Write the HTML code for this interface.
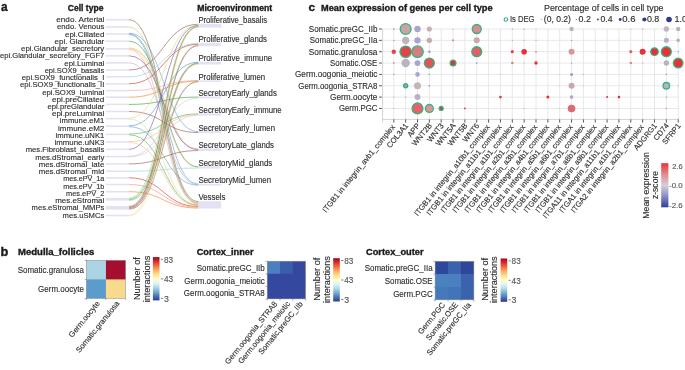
<!DOCTYPE html>
<html><head><meta charset="utf-8"><style>
html,body{margin:0;padding:0;background:#fff;width:685px;height:370px;overflow:hidden}
svg{display:block;font-family:"Liberation Sans", Arial, sans-serif}
</style></head><body>
<svg width="685" height="370" viewBox="0 0 685 370">
<text x="1.00" y="10.70" font-size="12.00" text-anchor="start" font-weight="bold" fill="#1a1a1a" stroke="#1a1a1a" stroke-width="0.35" textLength="6.67" lengthAdjust="spacingAndGlyphs" >a</text>
<text x="103.40" y="10.80" font-size="8.60" text-anchor="end" font-weight="bold" fill="#1a1a1a" stroke="#1a1a1a" stroke-width="0.35" textLength="35.60" lengthAdjust="spacingAndGlyphs" >Cell type</text>
<text x="197.20" y="10.80" font-size="8.60" text-anchor="start" font-weight="bold" fill="#1a1a1a" stroke="#1a1a1a" stroke-width="0.35" textLength="75.00" lengthAdjust="spacingAndGlyphs" >Microenvironment</text>
<rect x="105.8" y="18.90" width="23.2" height="1.60" fill="#e3e1f2"/>
<text x="104.30" y="22.05" font-size="8.10" text-anchor="end" font-weight="normal" fill="#2e2e2e" stroke="#2e2e2e" stroke-width="0.13" textLength="48.00" lengthAdjust="spacingAndGlyphs" >endo. Arterial</text>
<rect x="105.8" y="26.20" width="23.2" height="1.60" fill="#e3e1f2"/>
<text x="104.30" y="29.30" font-size="8.10" text-anchor="end" font-weight="normal" fill="#2e2e2e" stroke="#2e2e2e" stroke-width="0.13" textLength="47.30" lengthAdjust="spacingAndGlyphs" >endo. Venous</text>
<rect x="105.8" y="33.10" width="23.2" height="1.60" fill="#e3e1f2"/>
<text x="104.30" y="36.54" font-size="8.10" text-anchor="end" font-weight="normal" fill="#2e2e2e" stroke="#2e2e2e" stroke-width="0.13" textLength="39.30" lengthAdjust="spacingAndGlyphs" >epi.Ciliated</text>
<rect x="105.8" y="40.40" width="23.2" height="1.60" fill="#e3e1f2"/>
<text x="104.30" y="43.78" font-size="8.10" text-anchor="end" font-weight="normal" fill="#2e2e2e" stroke="#2e2e2e" stroke-width="0.13" textLength="49.80" lengthAdjust="spacingAndGlyphs" >epi. Glandular</text>
<rect x="105.8" y="48.00" width="23.2" height="1.60" fill="#e3e1f2"/>
<text x="104.30" y="51.03" font-size="8.10" text-anchor="end" font-weight="normal" fill="#2e2e2e" stroke="#2e2e2e" stroke-width="0.13" textLength="83.20" lengthAdjust="spacingAndGlyphs" >epi.Glandular_secretory</text>
<rect x="105.8" y="55.00" width="23.2" height="1.60" fill="#e3e1f2"/>
<text x="104.30" y="58.27" font-size="8.10" text-anchor="end" font-weight="normal" fill="#2e2e2e" stroke="#2e2e2e" stroke-width="0.13" textLength="104.30" lengthAdjust="spacingAndGlyphs" >epi.Glandular_secretory_FGF7</text>
<rect x="105.8" y="62.10" width="23.2" height="1.60" fill="#e3e1f2"/>
<text x="104.30" y="65.52" font-size="8.10" text-anchor="end" font-weight="normal" fill="#2e2e2e" stroke="#2e2e2e" stroke-width="0.13" textLength="40.00" lengthAdjust="spacingAndGlyphs" >epi.Luminal</text>
<rect x="105.8" y="69.20" width="23.2" height="1.60" fill="#e3e1f2"/>
<text x="104.30" y="72.77" font-size="8.10" text-anchor="end" font-weight="normal" fill="#2e2e2e" stroke="#2e2e2e" stroke-width="0.13" textLength="59.60" lengthAdjust="spacingAndGlyphs" >epi.SOX9_basalis</text>
<rect x="105.8" y="76.00" width="23.2" height="1.60" fill="#e3e1f2"/>
<text x="104.30" y="80.01" font-size="8.10" text-anchor="end" font-weight="normal" fill="#2e2e2e" stroke="#2e2e2e" stroke-width="0.13" textLength="82.50" lengthAdjust="spacingAndGlyphs" >epi.SOX9_functionalis_I</text>
<rect x="105.8" y="83.00" width="23.2" height="1.60" fill="#e3e1f2"/>
<text x="104.30" y="87.25" font-size="8.10" text-anchor="end" font-weight="normal" fill="#2e2e2e" stroke="#2e2e2e" stroke-width="0.13" textLength="84.30" lengthAdjust="spacingAndGlyphs" >epi.SOX9_functionalis_II</text>
<rect x="105.8" y="89.80" width="23.2" height="1.60" fill="#e3e1f2"/>
<text x="104.30" y="94.50" font-size="8.10" text-anchor="end" font-weight="normal" fill="#2e2e2e" stroke="#2e2e2e" stroke-width="0.13" textLength="62.10" lengthAdjust="spacingAndGlyphs" >epi.SOX9_luminal</text>
<rect x="105.8" y="96.40" width="23.2" height="1.60" fill="#e3e1f2"/>
<text x="104.30" y="101.75" font-size="8.10" text-anchor="end" font-weight="normal" fill="#2e2e2e" stroke="#2e2e2e" stroke-width="0.13" textLength="52.30" lengthAdjust="spacingAndGlyphs" >epi.preCiliated</text>
<rect x="105.8" y="103.60" width="23.2" height="1.60" fill="#e3e1f2"/>
<text x="104.30" y="108.99" font-size="8.10" text-anchor="end" font-weight="normal" fill="#2e2e2e" stroke="#2e2e2e" stroke-width="0.13" textLength="56.80" lengthAdjust="spacingAndGlyphs" >epi.preGlandular</text>
<rect x="105.8" y="110.70" width="23.2" height="1.60" fill="#e3e1f2"/>
<text x="104.30" y="116.23" font-size="8.10" text-anchor="end" font-weight="normal" fill="#2e2e2e" stroke="#2e2e2e" stroke-width="0.13" textLength="52.30" lengthAdjust="spacingAndGlyphs" >epi.preLuminal</text>
<rect x="105.8" y="117.80" width="23.2" height="1.60" fill="#e3e1f2"/>
<text x="104.30" y="123.48" font-size="8.10" text-anchor="end" font-weight="normal" fill="#2e2e2e" stroke="#2e2e2e" stroke-width="0.13" textLength="44.50" lengthAdjust="spacingAndGlyphs" >immune.eM1</text>
<rect x="105.8" y="125.40" width="23.2" height="1.60" fill="#e3e1f2"/>
<text x="104.30" y="130.73" font-size="8.10" text-anchor="end" font-weight="normal" fill="#2e2e2e" stroke="#2e2e2e" stroke-width="0.13" textLength="46.30" lengthAdjust="spacingAndGlyphs" >immune.eM2</text>
<rect x="105.8" y="133.60" width="23.2" height="1.60" fill="#e3e1f2"/>
<text x="104.30" y="137.97" font-size="8.10" text-anchor="end" font-weight="normal" fill="#2e2e2e" stroke="#2e2e2e" stroke-width="0.13" textLength="48.70" lengthAdjust="spacingAndGlyphs" >immune.uNK1</text>
<rect x="105.8" y="141.20" width="23.2" height="1.60" fill="#e3e1f2"/>
<text x="104.30" y="145.22" font-size="8.10" text-anchor="end" font-weight="normal" fill="#2e2e2e" stroke="#2e2e2e" stroke-width="0.13" textLength="49.80" lengthAdjust="spacingAndGlyphs" >immune.uNK3</text>
<rect x="105.8" y="148.50" width="23.2" height="1.60" fill="#e3e1f2"/>
<text x="104.30" y="152.46" font-size="8.10" text-anchor="end" font-weight="normal" fill="#2e2e2e" stroke="#2e2e2e" stroke-width="0.13" textLength="78.60" lengthAdjust="spacingAndGlyphs" >mes.Fibroblast_basalis</text>
<rect x="105.8" y="155.80" width="23.2" height="1.60" fill="#e3e1f2"/>
<text x="104.30" y="159.71" font-size="8.10" text-anchor="end" font-weight="normal" fill="#2e2e2e" stroke="#2e2e2e" stroke-width="0.13" textLength="69.10" lengthAdjust="spacingAndGlyphs" >mes.dStromal_early</text>
<rect x="105.8" y="163.10" width="23.2" height="1.60" fill="#e3e1f2"/>
<text x="104.30" y="166.95" font-size="8.10" text-anchor="end" font-weight="normal" fill="#2e2e2e" stroke="#2e2e2e" stroke-width="0.13" textLength="65.60" lengthAdjust="spacingAndGlyphs" >mes.dStromal_late</text>
<rect x="105.8" y="170.40" width="23.2" height="1.60" fill="#e3e1f2"/>
<text x="104.30" y="174.20" font-size="8.10" text-anchor="end" font-weight="normal" fill="#2e2e2e" stroke="#2e2e2e" stroke-width="0.13" textLength="65.60" lengthAdjust="spacingAndGlyphs" >mes.dStromal_mid</text>
<rect x="105.8" y="177.00" width="23.2" height="1.60" fill="#e3e1f2"/>
<text x="104.30" y="181.44" font-size="8.10" text-anchor="end" font-weight="normal" fill="#2e2e2e" stroke="#2e2e2e" stroke-width="0.13" textLength="41.00" lengthAdjust="spacingAndGlyphs" >mes.ePV_1a</text>
<rect x="105.8" y="183.70" width="23.2" height="1.60" fill="#e3e1f2"/>
<text x="104.30" y="188.69" font-size="8.10" text-anchor="end" font-weight="normal" fill="#2e2e2e" stroke="#2e2e2e" stroke-width="0.13" textLength="41.00" lengthAdjust="spacingAndGlyphs" >mes.ePV_1b</text>
<rect x="105.8" y="190.90" width="23.2" height="1.60" fill="#e3e1f2"/>
<text x="104.30" y="195.93" font-size="8.10" text-anchor="end" font-weight="normal" fill="#2e2e2e" stroke="#2e2e2e" stroke-width="0.13" textLength="38.20" lengthAdjust="spacingAndGlyphs" >mes.ePV_2</text>
<rect x="105.8" y="198.00" width="23.2" height="2.60" fill="#e3e1f2"/>
<text x="104.30" y="203.18" font-size="8.10" text-anchor="end" font-weight="normal" fill="#2e2e2e" stroke="#2e2e2e" stroke-width="0.13" textLength="49.10" lengthAdjust="spacingAndGlyphs" >mes.eStromal</text>
<rect x="105.8" y="206.05" width="23.2" height="3.50" fill="#e3e1f2"/>
<text x="104.30" y="210.42" font-size="8.10" text-anchor="end" font-weight="normal" fill="#2e2e2e" stroke="#2e2e2e" stroke-width="0.13" textLength="72.70" lengthAdjust="spacingAndGlyphs" >mes.eStromal_MMPs</text>
<rect x="105.8" y="214.70" width="23.2" height="1.60" fill="#e3e1f2"/>
<text x="104.30" y="217.67" font-size="8.10" text-anchor="end" font-weight="normal" fill="#2e2e2e" stroke="#2e2e2e" stroke-width="0.13" textLength="41.70" lengthAdjust="spacingAndGlyphs" >mes.uSMCs</text>
<rect x="198.2" y="23.90" width="23.0" height="3.80" fill="#e3e1f2"/>
<text x="198.40" y="22.90" font-size="8.16" text-anchor="start" font-weight="normal" fill="#2e2e2e" stroke="#2e2e2e" stroke-width="0.13" textLength="68.60" lengthAdjust="spacingAndGlyphs" >Proliferative_basalis</text>
<rect x="198.2" y="42.90" width="23.0" height="3.30" fill="#e3e1f2"/>
<text x="198.40" y="42.20" font-size="8.16" text-anchor="start" font-weight="normal" fill="#2e2e2e" stroke="#2e2e2e" stroke-width="0.13" textLength="68.60" lengthAdjust="spacingAndGlyphs" >Proliferative_glands</text>
<rect x="198.2" y="61.80" width="23.0" height="2.70" fill="#e3e1f2"/>
<text x="198.40" y="61.00" font-size="8.16" text-anchor="start" font-weight="normal" fill="#2e2e2e" stroke="#2e2e2e" stroke-width="0.13" textLength="73.80" lengthAdjust="spacingAndGlyphs" >Proliferative_immune</text>
<rect x="198.2" y="80.40" width="23.0" height="1.50" fill="#e3e1f2"/>
<text x="198.40" y="79.80" font-size="8.16" text-anchor="start" font-weight="normal" fill="#2e2e2e" stroke="#2e2e2e" stroke-width="0.13" textLength="66.80" lengthAdjust="spacingAndGlyphs" >Proliferative_lumen</text>
<rect x="198.2" y="96.50" width="23.0" height="1.90" fill="#e3e1f2"/>
<text x="198.40" y="95.70" font-size="8.16" text-anchor="start" font-weight="normal" fill="#2e2e2e" stroke="#2e2e2e" stroke-width="0.13" textLength="78.40" lengthAdjust="spacingAndGlyphs" >SecretoryEarly_glands</text>
<rect x="198.2" y="113.50" width="23.0" height="2.00" fill="#e3e1f2"/>
<text x="198.40" y="112.80" font-size="8.16" text-anchor="start" font-weight="normal" fill="#2e2e2e" stroke="#2e2e2e" stroke-width="0.13" textLength="83.30" lengthAdjust="spacingAndGlyphs" >SecretoryEarly_immune</text>
<rect x="198.2" y="131.20" width="23.0" height="1.90" fill="#e3e1f2"/>
<text x="198.40" y="130.80" font-size="8.16" text-anchor="start" font-weight="normal" fill="#2e2e2e" stroke="#2e2e2e" stroke-width="0.13" textLength="76.60" lengthAdjust="spacingAndGlyphs" >SecretoryEarly_lumen</text>
<rect x="198.2" y="148.50" width="23.0" height="2.50" fill="#e3e1f2"/>
<text x="198.40" y="147.80" font-size="8.16" text-anchor="start" font-weight="normal" fill="#2e2e2e" stroke="#2e2e2e" stroke-width="0.13" textLength="75.60" lengthAdjust="spacingAndGlyphs" >SecretoryLate_glands</text>
<rect x="198.2" y="166.40" width="23.0" height="2.10" fill="#e3e1f2"/>
<text x="198.40" y="165.70" font-size="8.16" text-anchor="start" font-weight="normal" fill="#2e2e2e" stroke="#2e2e2e" stroke-width="0.13" textLength="73.80" lengthAdjust="spacingAndGlyphs" >SecretoryMid_glands</text>
<rect x="198.2" y="183.80" width="23.0" height="1.70" fill="#e3e1f2"/>
<text x="198.40" y="183.10" font-size="8.16" text-anchor="start" font-weight="normal" fill="#2e2e2e" stroke="#2e2e2e" stroke-width="0.13" textLength="72.80" lengthAdjust="spacingAndGlyphs" >SecretoryMid_lumen</text>
<rect x="198.2" y="201.20" width="23.0" height="7.30" fill="#e3e1f2"/>
<text x="198.40" y="200.10" font-size="8.16" text-anchor="start" font-weight="normal" fill="#2e2e2e" stroke="#2e2e2e" stroke-width="0.13" textLength="27.10" lengthAdjust="spacingAndGlyphs" >Vessels</text>
<path d="M129.0,19.70 C163.60,19.70 163.60,201.61 198.2,201.61" stroke="#a0675c" stroke-width="0.85" fill="none" stroke-opacity="0.8"/>
<path d="M129.0,27.00 C163.60,27.00 163.60,202.43 198.2,202.43" stroke="#d4d47a" stroke-width="0.85" fill="none" stroke-opacity="0.8"/>
<path d="M129.0,33.20 C163.60,33.20 163.60,131.59 198.2,131.59" stroke="#3d86c0" stroke-width="0.59" fill="none" stroke-opacity="0.8"/>
<path d="M129.0,33.90 C163.60,33.90 163.60,184.05 198.2,184.05" stroke="#3d86c0" stroke-width="0.59" fill="none" stroke-opacity="0.8"/>
<path d="M129.0,34.60 C163.60,34.60 163.60,203.13 198.2,203.13" stroke="#3d86c0" stroke-width="0.59" fill="none" stroke-opacity="0.8"/>
<path d="M129.0,41.20 C163.60,41.20 163.60,166.80 198.2,166.80" stroke="#4aa64a" stroke-width="0.85" fill="none" stroke-opacity="0.8"/>
<path d="M129.0,48.00 C163.60,48.00 163.60,148.92 198.2,148.92" stroke="#f3b270" stroke-width="0.85" fill="none" stroke-opacity="0.8"/>
<path d="M129.0,48.80 C163.60,48.80 163.60,167.45 198.2,167.45" stroke="#f3b270" stroke-width="0.51" fill="none" stroke-opacity="0.8"/>
<path d="M129.0,49.60 C163.60,49.60 163.60,203.82 198.2,203.82" stroke="#f3b270" stroke-width="0.85" fill="none" stroke-opacity="0.8"/>
<path d="M129.0,55.80 C163.60,55.80 163.60,149.75 198.2,149.75" stroke="#7d64b8" stroke-width="0.85" fill="none" stroke-opacity="0.8"/>
<path d="M129.0,62.90 C163.60,62.90 163.60,184.65 198.2,184.65" stroke="#c4b4d8" stroke-width="0.85" fill="none" stroke-opacity="0.8"/>
<path d="M129.0,70.00 C163.60,70.00 163.60,24.26 198.2,24.26" stroke="#a0675c" stroke-width="0.85" fill="none" stroke-opacity="0.8"/>
<path d="M129.0,76.80 C163.60,76.80 163.60,43.35 198.2,43.35" stroke="#9fd3e0" stroke-width="0.85" fill="none" stroke-opacity="0.8"/>
<path d="M129.0,83.80 C163.60,83.80 163.60,44.24 198.2,44.24" stroke="#d9453f" stroke-width="0.85" fill="none" stroke-opacity="0.8"/>
<path d="M129.0,90.60 C163.60,90.60 163.60,80.58 198.2,80.58" stroke="#f29a94" stroke-width="0.68" fill="none" stroke-opacity="0.8"/>
<path d="M129.0,97.20 C163.60,97.20 163.60,80.99 198.2,80.99" stroke="#f08a3a" stroke-width="0.85" fill="none" stroke-opacity="0.8"/>
<path d="M129.0,104.40 C163.60,104.40 163.60,97.06 198.2,97.06" stroke="#4aa64a" stroke-width="0.85" fill="none" stroke-opacity="0.8"/>
<path d="M129.0,111.50 C163.60,111.50 163.60,132.54 198.2,132.54" stroke="#a0675c" stroke-width="0.85" fill="none" stroke-opacity="0.8"/>
<path d="M129.0,118.25 C163.60,118.25 163.60,24.90 198.2,24.90" stroke="#d4d47a" stroke-width="0.68" fill="none" stroke-opacity="0.8"/>
<path d="M129.0,119.00 C163.60,119.00 163.60,204.52 198.2,204.52" stroke="#d4d47a" stroke-width="0.59" fill="none" stroke-opacity="0.8"/>
<path d="M129.0,125.85 C163.60,125.85 163.60,62.15 198.2,62.15" stroke="#3d86c0" stroke-width="0.68" fill="none" stroke-opacity="0.8"/>
<path d="M129.0,126.60 C163.60,126.60 163.60,185.25 198.2,185.25" stroke="#3d86c0" stroke-width="0.59" fill="none" stroke-opacity="0.8"/>
<path d="M129.0,134.00 C163.60,134.00 163.60,113.85 198.2,113.85" stroke="#4aa64a" stroke-width="0.68" fill="none" stroke-opacity="0.8"/>
<path d="M129.0,134.80 C163.60,134.80 163.60,205.14 198.2,205.14" stroke="#4aa64a" stroke-width="0.68" fill="none" stroke-opacity="0.8"/>
<path d="M129.0,141.65 C163.60,141.65 163.60,114.54 198.2,114.54" stroke="#f3b270" stroke-width="0.68" fill="none" stroke-opacity="0.8"/>
<path d="M129.0,142.40 C163.60,142.40 163.60,205.75 198.2,205.75" stroke="#f3b270" stroke-width="0.59" fill="none" stroke-opacity="0.8"/>
<path d="M129.0,149.30 C163.60,149.30 163.60,25.55 198.2,25.55" stroke="#7d64b8" stroke-width="0.85" fill="none" stroke-opacity="0.8"/>
<path d="M129.0,156.25 C163.60,156.25 163.60,98.01 198.2,98.01" stroke="#c4b4d8" stroke-width="0.59" fill="none" stroke-opacity="0.8"/>
<path d="M129.0,156.95 C163.60,156.95 163.60,115.20 198.2,115.20" stroke="#c4b4d8" stroke-width="0.59" fill="none" stroke-opacity="0.8"/>
<path d="M129.0,163.90 C163.60,163.90 163.60,150.58 198.2,150.58" stroke="#a0675c" stroke-width="0.85" fill="none" stroke-opacity="0.8"/>
<path d="M129.0,171.20 C163.60,171.20 163.60,168.10 198.2,168.10" stroke="#9fd3e0" stroke-width="0.85" fill="none" stroke-opacity="0.8"/>
<path d="M129.0,177.80 C163.60,177.80 163.60,206.45 198.2,206.45" stroke="#d9453f" stroke-width="0.85" fill="none" stroke-opacity="0.8"/>
<path d="M129.0,184.50 C163.60,184.50 163.60,207.27 198.2,207.27" stroke="#f29a94" stroke-width="0.85" fill="none" stroke-opacity="0.8"/>
<path d="M129.0,191.70 C163.60,191.70 163.60,208.09 198.2,208.09" stroke="#f08a3a" stroke-width="0.85" fill="none" stroke-opacity="0.8"/>
<path d="M129.0,198.15 C163.60,198.15 163.60,26.19 198.2,26.19" stroke="#8fce80" stroke-width="0.68" fill="none" stroke-opacity="0.8"/>
<path d="M129.0,198.95 C163.60,198.95 163.60,45.04 198.2,45.04" stroke="#8fce80" stroke-width="0.68" fill="none" stroke-opacity="0.8"/>
<path d="M129.0,199.75 C163.60,199.75 163.60,62.85 198.2,62.85" stroke="#4aa64a" stroke-width="0.68" fill="none" stroke-opacity="0.8"/>
<path d="M129.0,200.50 C163.60,200.50 163.60,81.38 198.2,81.38" stroke="#8fce80" stroke-width="0.59" fill="none" stroke-opacity="0.8"/>
<path d="M129.0,206.50 C163.60,206.50 163.60,26.80 198.2,26.80" stroke="#9a5a4c" stroke-width="0.77" fill="none" stroke-opacity="0.8"/>
<path d="M129.0,207.40 C163.60,207.40 163.60,45.80 198.2,45.80" stroke="#9a5a4c" stroke-width="0.77" fill="none" stroke-opacity="0.8"/>
<path d="M129.0,208.30 C163.60,208.30 163.60,63.59 198.2,63.59" stroke="#9a5a4c" stroke-width="0.77" fill="none" stroke-opacity="0.8"/>
<path d="M129.0,209.15 C163.60,209.15 163.60,81.72 198.2,81.72" stroke="#9a5a4c" stroke-width="0.68" fill="none" stroke-opacity="0.8"/>
<path d="M129.0,215.20 C163.60,215.20 163.60,27.41 198.2,27.41" stroke="#e0e08a" stroke-width="0.68" fill="none" stroke-opacity="0.8"/>
<path d="M129.0,215.90 C163.60,215.90 163.60,64.24 198.2,64.24" stroke="#e0e08a" stroke-width="0.51" fill="none" stroke-opacity="0.8"/>
<text x="308.50" y="11.00" font-size="11.80" text-anchor="start" font-weight="bold" fill="#1a1a1a" stroke="#1a1a1a" stroke-width="0.35" textLength="6.56" lengthAdjust="spacingAndGlyphs" >c</text>
<text x="321.00" y="11.00" font-size="9.00" text-anchor="start" font-weight="bold" fill="#1a1a1a" stroke="#1a1a1a" stroke-width="0.35" textLength="171.60" lengthAdjust="spacingAndGlyphs" >Mean expression of genes per cell type</text>
<line x1="382.6" y1="29.00" x2="679.0" y2="29.00" stroke="#e2e2e2" stroke-width="0.8"/>
<line x1="382.6" y1="40.35" x2="679.0" y2="40.35" stroke="#e2e2e2" stroke-width="0.8"/>
<line x1="382.6" y1="51.70" x2="679.0" y2="51.70" stroke="#e2e2e2" stroke-width="0.8"/>
<line x1="382.6" y1="63.05" x2="679.0" y2="63.05" stroke="#e2e2e2" stroke-width="0.8"/>
<line x1="382.6" y1="74.40" x2="679.0" y2="74.40" stroke="#e2e2e2" stroke-width="0.8"/>
<line x1="382.6" y1="85.75" x2="679.0" y2="85.75" stroke="#e2e2e2" stroke-width="0.8"/>
<line x1="382.6" y1="97.10" x2="679.0" y2="97.10" stroke="#e2e2e2" stroke-width="0.8"/>
<line x1="382.6" y1="108.45" x2="679.0" y2="108.45" stroke="#e2e2e2" stroke-width="0.8"/>
<line x1="393.80" y1="29.0" x2="393.80" y2="119.4" stroke="#e2e2e2" stroke-width="0.8"/>
<line x1="405.65" y1="29.0" x2="405.65" y2="119.4" stroke="#e2e2e2" stroke-width="0.8"/>
<line x1="417.50" y1="29.0" x2="417.50" y2="119.4" stroke="#e2e2e2" stroke-width="0.8"/>
<line x1="429.35" y1="29.0" x2="429.35" y2="119.4" stroke="#e2e2e2" stroke-width="0.8"/>
<line x1="441.20" y1="29.0" x2="441.20" y2="119.4" stroke="#e2e2e2" stroke-width="0.8"/>
<line x1="453.05" y1="29.0" x2="453.05" y2="119.4" stroke="#e2e2e2" stroke-width="0.8"/>
<line x1="464.90" y1="29.0" x2="464.90" y2="119.4" stroke="#e2e2e2" stroke-width="0.8"/>
<line x1="476.75" y1="29.0" x2="476.75" y2="119.4" stroke="#e2e2e2" stroke-width="0.8"/>
<line x1="488.60" y1="29.0" x2="488.60" y2="119.4" stroke="#e2e2e2" stroke-width="0.8"/>
<line x1="500.45" y1="29.0" x2="500.45" y2="119.4" stroke="#e2e2e2" stroke-width="0.8"/>
<line x1="512.30" y1="29.0" x2="512.30" y2="119.4" stroke="#e2e2e2" stroke-width="0.8"/>
<line x1="524.15" y1="29.0" x2="524.15" y2="119.4" stroke="#e2e2e2" stroke-width="0.8"/>
<line x1="536.00" y1="29.0" x2="536.00" y2="119.4" stroke="#e2e2e2" stroke-width="0.8"/>
<line x1="547.85" y1="29.0" x2="547.85" y2="119.4" stroke="#e2e2e2" stroke-width="0.8"/>
<line x1="559.70" y1="29.0" x2="559.70" y2="119.4" stroke="#e2e2e2" stroke-width="0.8"/>
<line x1="571.55" y1="29.0" x2="571.55" y2="119.4" stroke="#e2e2e2" stroke-width="0.8"/>
<line x1="583.40" y1="29.0" x2="583.40" y2="119.4" stroke="#e2e2e2" stroke-width="0.8"/>
<line x1="595.25" y1="29.0" x2="595.25" y2="119.4" stroke="#e2e2e2" stroke-width="0.8"/>
<line x1="607.10" y1="29.0" x2="607.10" y2="119.4" stroke="#e2e2e2" stroke-width="0.8"/>
<line x1="618.95" y1="29.0" x2="618.95" y2="119.4" stroke="#e2e2e2" stroke-width="0.8"/>
<line x1="630.80" y1="29.0" x2="630.80" y2="119.4" stroke="#e2e2e2" stroke-width="0.8"/>
<line x1="642.65" y1="29.0" x2="642.65" y2="119.4" stroke="#e2e2e2" stroke-width="0.8"/>
<line x1="654.50" y1="29.0" x2="654.50" y2="119.4" stroke="#e2e2e2" stroke-width="0.8"/>
<line x1="666.35" y1="29.0" x2="666.35" y2="119.4" stroke="#e2e2e2" stroke-width="0.8"/>
<line x1="678.20" y1="29.0" x2="678.20" y2="119.4" stroke="#e2e2e2" stroke-width="0.8"/>
<line x1="382.6" y1="29.0" x2="382.6" y2="122.4" stroke="#c8c8c8" stroke-width="0.8"/>
<line x1="382.6" y1="119.4" x2="679.0" y2="119.4" stroke="#c8c8c8" stroke-width="0.8"/>
<text x="377.40" y="31.90" font-size="8.64" text-anchor="end" font-weight="normal" fill="#2e2e2e" stroke="#2e2e2e" stroke-width="0.13" textLength="68.60" lengthAdjust="spacingAndGlyphs" >Somatic.preGC_IIb</text>
<line x1="379.2" y1="29.00" x2="381.8" y2="29.00" stroke="#333" stroke-width="0.9"/>
<text x="377.40" y="43.25" font-size="8.64" text-anchor="end" font-weight="normal" fill="#2e2e2e" stroke="#2e2e2e" stroke-width="0.13" textLength="67.60" lengthAdjust="spacingAndGlyphs" >Somatic.preGC_IIa</text>
<line x1="379.2" y1="40.35" x2="381.8" y2="40.35" stroke="#333" stroke-width="0.9"/>
<text x="377.40" y="54.60" font-size="8.64" text-anchor="end" font-weight="normal" fill="#2e2e2e" stroke="#2e2e2e" stroke-width="0.13" textLength="68.60" lengthAdjust="spacingAndGlyphs" >Somatic.granulosa</text>
<line x1="379.2" y1="51.70" x2="381.8" y2="51.70" stroke="#333" stroke-width="0.9"/>
<text x="377.40" y="65.95" font-size="8.64" text-anchor="end" font-weight="normal" fill="#2e2e2e" stroke="#2e2e2e" stroke-width="0.13" textLength="47.40" lengthAdjust="spacingAndGlyphs" >Somatic.OSE</text>
<line x1="379.2" y1="63.05" x2="381.8" y2="63.05" stroke="#333" stroke-width="0.9"/>
<text x="377.40" y="77.30" font-size="8.64" text-anchor="end" font-weight="normal" fill="#2e2e2e" stroke="#2e2e2e" stroke-width="0.13" textLength="82.40" lengthAdjust="spacingAndGlyphs" >Germ.oogonia_meiotic</text>
<line x1="379.2" y1="74.40" x2="381.8" y2="74.40" stroke="#333" stroke-width="0.9"/>
<text x="377.40" y="88.65" font-size="8.64" text-anchor="end" font-weight="normal" fill="#2e2e2e" stroke="#2e2e2e" stroke-width="0.13" textLength="79.10" lengthAdjust="spacingAndGlyphs" >Germ.oogonia_STRA8</text>
<line x1="379.2" y1="85.75" x2="381.8" y2="85.75" stroke="#333" stroke-width="0.9"/>
<text x="377.40" y="100.00" font-size="8.64" text-anchor="end" font-weight="normal" fill="#2e2e2e" stroke="#2e2e2e" stroke-width="0.13" textLength="47.40" lengthAdjust="spacingAndGlyphs" >Germ.oocyte</text>
<line x1="379.2" y1="97.10" x2="381.8" y2="97.10" stroke="#333" stroke-width="0.9"/>
<text x="377.40" y="111.35" font-size="8.64" text-anchor="end" font-weight="normal" fill="#2e2e2e" stroke="#2e2e2e" stroke-width="0.13" textLength="38.40" lengthAdjust="spacingAndGlyphs" >Germ.PGC</text>
<line x1="379.2" y1="108.45" x2="381.8" y2="108.45" stroke="#333" stroke-width="0.9"/>
<line x1="393.80" y1="119.4" x2="393.80" y2="122.60000000000001" stroke="#444" stroke-width="0.9"/>
<text x="395.40" y="127.20" font-size="7.75" text-anchor="end" font-weight="normal" fill="#2e2e2e" stroke="#2e2e2e" stroke-width="0.13" textLength="110.26" lengthAdjust="spacingAndGlyphs" transform="rotate(-51 395.40 127.20)" >ITGB1 in integrin_avb1_complex</text>
<line x1="405.65" y1="119.4" x2="405.65" y2="122.60000000000001" stroke="#444" stroke-width="0.9"/>
<text x="408.65" y="125.90" font-size="7.75" text-anchor="end" font-weight="normal" fill="#2e2e2e" stroke="#2e2e2e" stroke-width="0.13" textLength="29.15" lengthAdjust="spacingAndGlyphs" transform="rotate(-51 408.65 125.90)" >COL3A1</text>
<line x1="417.50" y1="119.4" x2="417.50" y2="122.60000000000001" stroke="#444" stroke-width="0.9"/>
<text x="420.50" y="125.90" font-size="7.75" text-anchor="end" font-weight="normal" fill="#2e2e2e" stroke="#2e2e2e" stroke-width="0.13" textLength="15.21" lengthAdjust="spacingAndGlyphs" transform="rotate(-51 420.50 125.90)" >APP</text>
<line x1="429.35" y1="119.4" x2="429.35" y2="122.60000000000001" stroke="#444" stroke-width="0.9"/>
<text x="432.35" y="125.90" font-size="7.75" text-anchor="end" font-weight="normal" fill="#2e2e2e" stroke="#2e2e2e" stroke-width="0.13" textLength="26.60" lengthAdjust="spacingAndGlyphs" transform="rotate(-51 432.35 125.90)" >WNT2B</text>
<line x1="441.20" y1="119.4" x2="441.20" y2="122.60000000000001" stroke="#444" stroke-width="0.9"/>
<text x="444.20" y="125.90" font-size="7.75" text-anchor="end" font-weight="normal" fill="#2e2e2e" stroke="#2e2e2e" stroke-width="0.13" textLength="21.53" lengthAdjust="spacingAndGlyphs" transform="rotate(-51 444.20 125.90)" >WNT3</text>
<line x1="453.05" y1="119.4" x2="453.05" y2="122.60000000000001" stroke="#444" stroke-width="0.9"/>
<text x="456.05" y="125.90" font-size="7.75" text-anchor="end" font-weight="normal" fill="#2e2e2e" stroke="#2e2e2e" stroke-width="0.13" textLength="26.60" lengthAdjust="spacingAndGlyphs" transform="rotate(-51 456.05 125.90)" >WNT5A</text>
<line x1="464.90" y1="119.4" x2="464.90" y2="122.60000000000001" stroke="#444" stroke-width="0.9"/>
<text x="467.90" y="125.90" font-size="7.75" text-anchor="end" font-weight="normal" fill="#2e2e2e" stroke="#2e2e2e" stroke-width="0.13" textLength="26.60" lengthAdjust="spacingAndGlyphs" transform="rotate(-51 467.90 125.90)" >WNT5B</text>
<line x1="476.75" y1="119.4" x2="476.75" y2="122.60000000000001" stroke="#444" stroke-width="0.9"/>
<text x="479.75" y="125.90" font-size="7.75" text-anchor="end" font-weight="normal" fill="#2e2e2e" stroke="#2e2e2e" stroke-width="0.13" textLength="21.53" lengthAdjust="spacingAndGlyphs" transform="rotate(-51 479.75 125.90)" >WNT6</text>
<line x1="488.60" y1="119.4" x2="488.60" y2="122.60000000000001" stroke="#444" stroke-width="0.9"/>
<text x="490.20" y="127.20" font-size="7.75" text-anchor="end" font-weight="normal" fill="#2e2e2e" stroke="#2e2e2e" stroke-width="0.13" textLength="114.92" lengthAdjust="spacingAndGlyphs" transform="rotate(-51 490.20 127.20)" >ITGB1 in integrin_a10b1_complex</text>
<line x1="500.45" y1="119.4" x2="500.45" y2="122.60000000000001" stroke="#444" stroke-width="0.9"/>
<text x="502.05" y="127.20" font-size="7.75" text-anchor="end" font-weight="normal" fill="#2e2e2e" stroke="#2e2e2e" stroke-width="0.13" textLength="114.35" lengthAdjust="spacingAndGlyphs" transform="rotate(-51 502.05 127.20)" >ITGB1 in integrin_a11b1_complex</text>
<line x1="512.30" y1="119.4" x2="512.30" y2="122.60000000000001" stroke="#444" stroke-width="0.9"/>
<text x="513.90" y="127.20" font-size="7.75" text-anchor="end" font-weight="normal" fill="#2e2e2e" stroke="#2e2e2e" stroke-width="0.13" textLength="110.69" lengthAdjust="spacingAndGlyphs" transform="rotate(-51 513.90 127.20)" >ITGB1 in integrin_a1b1_complex</text>
<line x1="524.15" y1="119.4" x2="524.15" y2="122.60000000000001" stroke="#444" stroke-width="0.9"/>
<text x="525.75" y="127.20" font-size="7.75" text-anchor="end" font-weight="normal" fill="#2e2e2e" stroke="#2e2e2e" stroke-width="0.13" textLength="110.69" lengthAdjust="spacingAndGlyphs" transform="rotate(-51 525.75 127.20)" >ITGB1 in integrin_a2b1_complex</text>
<line x1="536.00" y1="119.4" x2="536.00" y2="122.60000000000001" stroke="#444" stroke-width="0.9"/>
<text x="537.60" y="127.20" font-size="7.75" text-anchor="end" font-weight="normal" fill="#2e2e2e" stroke="#2e2e2e" stroke-width="0.13" textLength="110.69" lengthAdjust="spacingAndGlyphs" transform="rotate(-51 537.60 127.20)" >ITGB1 in integrin_a3b1_complex</text>
<line x1="547.85" y1="119.4" x2="547.85" y2="122.60000000000001" stroke="#444" stroke-width="0.9"/>
<text x="549.45" y="127.20" font-size="7.75" text-anchor="end" font-weight="normal" fill="#2e2e2e" stroke="#2e2e2e" stroke-width="0.13" textLength="110.69" lengthAdjust="spacingAndGlyphs" transform="rotate(-51 549.45 127.20)" >ITGB1 in integrin_a4b1_complex</text>
<line x1="559.70" y1="119.4" x2="559.70" y2="122.60000000000001" stroke="#444" stroke-width="0.9"/>
<text x="561.30" y="127.20" font-size="7.75" text-anchor="end" font-weight="normal" fill="#2e2e2e" stroke="#2e2e2e" stroke-width="0.13" textLength="110.69" lengthAdjust="spacingAndGlyphs" transform="rotate(-51 561.30 127.20)" >ITGB1 in integrin_a5b1_complex</text>
<line x1="571.55" y1="119.4" x2="571.55" y2="122.60000000000001" stroke="#444" stroke-width="0.9"/>
<text x="573.15" y="127.20" font-size="7.75" text-anchor="end" font-weight="normal" fill="#2e2e2e" stroke="#2e2e2e" stroke-width="0.13" textLength="110.69" lengthAdjust="spacingAndGlyphs" transform="rotate(-51 573.15 127.20)" >ITGB1 in integrin_a6b1_complex</text>
<line x1="583.40" y1="119.4" x2="583.40" y2="122.60000000000001" stroke="#444" stroke-width="0.9"/>
<text x="585.00" y="127.20" font-size="7.75" text-anchor="end" font-weight="normal" fill="#2e2e2e" stroke="#2e2e2e" stroke-width="0.13" textLength="110.69" lengthAdjust="spacingAndGlyphs" transform="rotate(-51 585.00 127.20)" >ITGB1 in integrin_a7b1_complex</text>
<line x1="595.25" y1="119.4" x2="595.25" y2="122.60000000000001" stroke="#444" stroke-width="0.9"/>
<text x="596.85" y="127.20" font-size="7.75" text-anchor="end" font-weight="normal" fill="#2e2e2e" stroke="#2e2e2e" stroke-width="0.13" textLength="110.69" lengthAdjust="spacingAndGlyphs" transform="rotate(-51 596.85 127.20)" >ITGB1 in integrin_a8b1_complex</text>
<line x1="607.10" y1="119.4" x2="607.10" y2="122.60000000000001" stroke="#444" stroke-width="0.9"/>
<text x="608.70" y="127.20" font-size="7.75" text-anchor="end" font-weight="normal" fill="#2e2e2e" stroke="#2e2e2e" stroke-width="0.13" textLength="110.69" lengthAdjust="spacingAndGlyphs" transform="rotate(-51 608.70 127.20)" >ITGB1 in integrin_a9b1_complex</text>
<line x1="618.95" y1="119.4" x2="618.95" y2="122.60000000000001" stroke="#444" stroke-width="0.9"/>
<text x="620.55" y="127.20" font-size="7.75" text-anchor="end" font-weight="normal" fill="#2e2e2e" stroke="#2e2e2e" stroke-width="0.13" textLength="118.01" lengthAdjust="spacingAndGlyphs" transform="rotate(-51 620.55 127.20)" >ITGA11 in integrin_a11b1_complex</text>
<line x1="630.80" y1="119.4" x2="630.80" y2="122.60000000000001" stroke="#444" stroke-width="0.9"/>
<text x="632.40" y="127.20" font-size="7.75" text-anchor="end" font-weight="normal" fill="#2e2e2e" stroke="#2e2e2e" stroke-width="0.13" textLength="110.69" lengthAdjust="spacingAndGlyphs" transform="rotate(-51 632.40 127.20)" >ITGA1 in integrin_a1b1_complex</text>
<line x1="642.65" y1="119.4" x2="642.65" y2="122.60000000000001" stroke="#444" stroke-width="0.9"/>
<text x="644.25" y="127.20" font-size="7.75" text-anchor="end" font-weight="normal" fill="#2e2e2e" stroke="#2e2e2e" stroke-width="0.13" textLength="110.69" lengthAdjust="spacingAndGlyphs" transform="rotate(-51 644.25 127.20)" >ITGA2 in integrin_a2b1_complex</text>
<line x1="654.50" y1="119.4" x2="654.50" y2="122.60000000000001" stroke="#444" stroke-width="0.9"/>
<text x="657.50" y="125.90" font-size="7.75" text-anchor="end" font-weight="normal" fill="#2e2e2e" stroke="#2e2e2e" stroke-width="0.13" textLength="32.10" lengthAdjust="spacingAndGlyphs" transform="rotate(-51 657.50 125.90)" >ADGRG1</text>
<line x1="666.35" y1="119.4" x2="666.35" y2="122.60000000000001" stroke="#444" stroke-width="0.9"/>
<text x="669.35" y="125.90" font-size="7.75" text-anchor="end" font-weight="normal" fill="#2e2e2e" stroke="#2e2e2e" stroke-width="0.13" textLength="19.43" lengthAdjust="spacingAndGlyphs" transform="rotate(-51 669.35 125.90)" >CD74</text>
<line x1="678.20" y1="119.4" x2="678.20" y2="122.60000000000001" stroke="#444" stroke-width="0.9"/>
<text x="681.20" y="125.90" font-size="7.75" text-anchor="end" font-weight="normal" fill="#2e2e2e" stroke="#2e2e2e" stroke-width="0.13" textLength="24.50" lengthAdjust="spacingAndGlyphs" transform="rotate(-51 681.20 125.90)" >SFRP1</text>
<circle cx="393.80" cy="29.00" r="0.90" fill="#d4a0a4"/>
<circle cx="405.65" cy="29.00" r="5.45" fill="#c9a3a8" stroke="#37b27a" stroke-width="1.3"/>
<circle cx="417.50" cy="29.00" r="3.20" fill="#a8a4d4"/>
<circle cx="429.35" cy="29.00" r="2.55" fill="#c4b0b8"/>
<circle cx="453.05" cy="29.00" r="0.60" fill="#d4a0a4"/>
<circle cx="476.75" cy="29.00" r="4.50" fill="#d49090" stroke="#37b27a" stroke-width="1.3"/>
<circle cx="393.80" cy="40.35" r="0.70" fill="#8a88cc"/>
<circle cx="405.65" cy="40.35" r="3.65" fill="#bcb2c2"/>
<circle cx="417.50" cy="40.35" r="3.20" fill="#a8a4d4"/>
<circle cx="429.35" cy="40.35" r="2.70" fill="#c8a8ac"/>
<circle cx="453.05" cy="40.35" r="1.10" fill="#d89090"/>
<circle cx="476.75" cy="40.35" r="3.00" fill="#c8a8ac"/>
<circle cx="393.80" cy="51.70" r="2.20" fill="#e8404a"/>
<circle cx="405.65" cy="51.70" r="5.65" fill="#e8404a" stroke="#37b27a" stroke-width="1.3"/>
<circle cx="417.50" cy="51.70" r="5.75" fill="#d87c80" stroke="#37b27a" stroke-width="1.3"/>
<circle cx="429.35" cy="51.70" r="1.20" fill="#9c98cc"/>
<circle cx="476.75" cy="51.70" r="4.95" fill="#e06068" stroke="#37b27a" stroke-width="1.3"/>
<circle cx="393.80" cy="63.05" r="1.00" fill="#d4a0a4"/>
<circle cx="405.65" cy="63.05" r="4.20" fill="#bcb2c2"/>
<circle cx="417.50" cy="63.05" r="2.90" fill="#a8a4d4"/>
<circle cx="429.35" cy="63.05" r="4.95" fill="#e65058" stroke="#37b27a" stroke-width="1.3"/>
<circle cx="453.05" cy="63.05" r="2.85" fill="#e8303a" stroke="#37b27a" stroke-width="1.3"/>
<circle cx="476.75" cy="63.05" r="0.60" fill="#8a88cc"/>
<circle cx="393.80" cy="74.40" r="0.60" fill="#8a88cc"/>
<circle cx="417.50" cy="74.40" r="2.30" fill="#a8a4d4"/>
<circle cx="429.35" cy="74.40" r="0.70" fill="#8a88cc"/>
<circle cx="405.65" cy="85.75" r="2.05" fill="#9a9ac8" stroke="#37b27a" stroke-width="1.3"/>
<circle cx="417.50" cy="85.75" r="3.50" fill="#c4b4b8"/>
<circle cx="429.35" cy="85.75" r="0.80" fill="#8a88cc"/>
<circle cx="393.80" cy="97.10" r="0.70" fill="#d4a0a4"/>
<circle cx="405.65" cy="97.10" r="0.50" fill="#8a88cc"/>
<circle cx="417.50" cy="97.10" r="3.00" fill="#b8b0cc"/>
<circle cx="393.80" cy="108.45" r="0.50" fill="#8a88cc"/>
<circle cx="417.50" cy="108.45" r="5.45" fill="#e8606a" stroke="#37b27a" stroke-width="1.3"/>
<circle cx="429.35" cy="108.45" r="3.95" fill="#d89898" stroke="#37b27a" stroke-width="1.3"/>
<circle cx="441.20" cy="108.45" r="1.95" fill="#e8303a" stroke="#37b27a" stroke-width="1.3"/>
<circle cx="464.90" cy="108.45" r="0.90" fill="#e8303a"/>
<circle cx="512.30" cy="29.00" r="0.70" fill="#d4a0a4"/>
<circle cx="524.15" cy="29.00" r="0.80" fill="#c8a8b0"/>
<circle cx="536.00" cy="29.00" r="0.60" fill="#d4a0a4"/>
<circle cx="512.30" cy="40.35" r="0.50" fill="#8a88cc"/>
<circle cx="524.15" cy="40.35" r="0.50" fill="#8a88cc"/>
<circle cx="536.00" cy="40.35" r="0.50" fill="#8a88cc"/>
<circle cx="512.30" cy="51.70" r="1.60" fill="#e84048"/>
<circle cx="524.15" cy="51.70" r="2.80" fill="#e8303a"/>
<circle cx="536.00" cy="51.70" r="1.00" fill="#e89090"/>
<circle cx="476.75" cy="63.05" r="0.60" fill="#8a88cc"/>
<circle cx="512.30" cy="63.05" r="1.20" fill="#e07878"/>
<circle cx="524.15" cy="63.05" r="0.60" fill="#b8a8b8"/>
<circle cx="536.00" cy="63.05" r="1.70" fill="#e8303a"/>
<circle cx="500.45" cy="74.40" r="0.50" fill="#e8a0a0"/>
<circle cx="559.70" cy="74.40" r="0.50" fill="#e8a0a0"/>
<circle cx="559.70" cy="85.75" r="0.50" fill="#e8a0a0"/>
<circle cx="500.45" cy="97.10" r="1.30" fill="#e8303a"/>
<circle cx="547.85" cy="97.10" r="1.50" fill="#e8303a"/>
<circle cx="524.15" cy="108.45" r="0.50" fill="#8a88cc"/>
<circle cx="559.70" cy="108.45" r="0.50" fill="#e8a0a0"/>
<circle cx="571.55" cy="29.00" r="2.20" fill="#bcb0c4"/>
<circle cx="630.80" cy="29.00" r="0.60" fill="#d4a0a4"/>
<circle cx="642.65" cy="29.00" r="0.70" fill="#d4a0a4"/>
<circle cx="666.35" cy="29.00" r="2.70" fill="#c0b4c0"/>
<circle cx="678.20" cy="29.00" r="2.20" fill="#bcb0c4"/>
<circle cx="571.55" cy="40.35" r="0.60" fill="#8a88cc"/>
<circle cx="666.35" cy="40.35" r="2.50" fill="#b4aec8"/>
<circle cx="678.20" cy="40.35" r="1.80" fill="#bcb0c0"/>
<circle cx="571.55" cy="51.70" r="3.00" fill="#d8989c"/>
<circle cx="630.80" cy="51.70" r="1.60" fill="#e86068"/>
<circle cx="642.65" cy="51.70" r="3.00" fill="#e8303a"/>
<circle cx="654.50" cy="51.70" r="3.75" fill="#e8303a" stroke="#37b27a" stroke-width="1.3"/>
<circle cx="666.35" cy="51.70" r="4.95" fill="#e8303a" stroke="#37b27a" stroke-width="1.3"/>
<circle cx="678.20" cy="51.70" r="0.60" fill="#8a88cc"/>
<circle cx="571.55" cy="63.05" r="0.60" fill="#8a88cc"/>
<circle cx="630.80" cy="63.05" r="1.20" fill="#e08080"/>
<circle cx="642.65" cy="63.05" r="0.60" fill="#c0b0c0"/>
<circle cx="666.35" cy="63.05" r="2.70" fill="#bcb2c2"/>
<circle cx="678.20" cy="63.05" r="4.80" fill="#e8303a" stroke="#37b27a" stroke-width="1.3"/>
<circle cx="571.55" cy="74.40" r="1.50" fill="#9c98cc"/>
<circle cx="583.40" cy="74.40" r="0.60" fill="#e8a0a0"/>
<circle cx="666.35" cy="74.40" r="0.70" fill="#8a88cc"/>
<circle cx="571.55" cy="85.75" r="3.00" fill="#c8a8ac"/>
<circle cx="583.40" cy="85.75" r="0.50" fill="#e8a0a0"/>
<circle cx="666.35" cy="85.75" r="3.25" fill="#b8b4c8" stroke="#37b27a" stroke-width="1.3"/>
<circle cx="678.20" cy="85.75" r="0.50" fill="#8a88cc"/>
<circle cx="571.55" cy="97.10" r="1.80" fill="#b0a8c8"/>
<circle cx="607.10" cy="97.10" r="1.00" fill="#e8303a"/>
<circle cx="618.95" cy="97.10" r="1.30" fill="#e8303a"/>
<circle cx="666.35" cy="97.10" r="0.60" fill="#8a88cc"/>
<circle cx="571.55" cy="108.45" r="3.80" fill="#e06870"/>
<circle cx="666.35" cy="108.45" r="0.60" fill="#8a88cc"/>
<text x="544.00" y="11.40" font-size="8.59" text-anchor="start" font-weight="normal" fill="#2e2e2e" stroke="#2e2e2e" stroke-width="0.13" textLength="119.50" lengthAdjust="spacingAndGlyphs" >Percentage of cells in cell type</text>
<circle cx="505.9" cy="19.5" r="1.8" fill="none" stroke="#37b27a" stroke-width="1.1"/>
<text x="509.90" y="22.00" font-size="8.59" text-anchor="start" font-weight="normal" fill="#2e2e2e" stroke="#2e2e2e" stroke-width="0.13" textLength="24.70" lengthAdjust="spacingAndGlyphs" >Is DEG</text>
<circle cx="541.2" cy="19.5" r="0.4" fill="#2e3b8e"/>
<text x="543.80" y="22.00" font-size="8.59" text-anchor="start" font-weight="normal" fill="#2e2e2e" stroke="#2e2e2e" stroke-width="0.13" textLength="27.10" lengthAdjust="spacingAndGlyphs" >(0, 0.2)</text>
<circle cx="576.3" cy="19.5" r="0.6" fill="#2e3b8e"/>
<text x="578.60" y="22.00" font-size="8.59" text-anchor="start" font-weight="normal" fill="#2e2e2e" stroke="#2e2e2e" stroke-width="0.13" textLength="12.30" lengthAdjust="spacingAndGlyphs" >0.2</text>
<circle cx="597.9" cy="19.5" r="0.9" fill="#2e3b8e"/>
<text x="600.40" y="22.00" font-size="8.59" text-anchor="start" font-weight="normal" fill="#2e2e2e" stroke="#2e2e2e" stroke-width="0.13" textLength="12.10" lengthAdjust="spacingAndGlyphs" >0.4</text>
<circle cx="620.2" cy="19.5" r="1.4" fill="#2e3b8e"/>
<text x="622.20" y="22.00" font-size="8.59" text-anchor="start" font-weight="normal" fill="#2e2e2e" stroke="#2e2e2e" stroke-width="0.13" textLength="13.30" lengthAdjust="spacingAndGlyphs" >0.6</text>
<circle cx="644.4" cy="19.5" r="2.1" fill="#2e3b8e"/>
<text x="646.90" y="22.00" font-size="8.59" text-anchor="start" font-weight="normal" fill="#2e2e2e" stroke="#2e2e2e" stroke-width="0.13" textLength="12.40" lengthAdjust="spacingAndGlyphs" >0.8</text>
<circle cx="669.0" cy="19.5" r="2.8" fill="#2e3b8e"/>
<text x="674.60" y="22.00" font-size="8.59" text-anchor="start" font-weight="normal" fill="#2e2e2e" stroke="#2e2e2e" stroke-width="0.13" textLength="12.40" lengthAdjust="spacingAndGlyphs" >1.0</text>
<defs><linearGradient id="gz" x1="0" y1="0" x2="0" y2="1">
<stop offset="0" stop-color="#e8333a"/><stop offset="0.25" stop-color="#e08a8e"/><stop offset="0.5" stop-color="#d6d0d6"/>
<stop offset="0.75" stop-color="#8a8cc8"/><stop offset="1" stop-color="#2b3d9c"/></linearGradient>
<linearGradient id="gi" x1="0" y1="0" x2="0" y2="1">
<stop offset="0" stop-color="#a50026"/><stop offset="0.1" stop-color="#d73027"/><stop offset="0.2" stop-color="#f46d43"/>
<stop offset="0.3" stop-color="#fdae61"/><stop offset="0.4" stop-color="#fee090"/><stop offset="0.5" stop-color="#ffffbf"/>
<stop offset="0.6" stop-color="#e0f3f8"/><stop offset="0.7" stop-color="#abd9e9"/><stop offset="0.8" stop-color="#74add1"/>
<stop offset="0.9" stop-color="#4575b4"/><stop offset="1" stop-color="#313695"/></linearGradient></defs>
<rect x="661.2" y="163.2" width="7.2" height="44.1" fill="url(#gz)"/>
<text x="672.20" y="169.00" font-size="8.06" text-anchor="start" font-weight="normal" fill="#555" stroke="#555" stroke-width="0.13" textLength="10.50" lengthAdjust="spacingAndGlyphs" >2.6</text>
<text x="669.10" y="188.10" font-size="8.06" text-anchor="start" font-weight="normal" fill="#555" stroke="#555" stroke-width="0.13" textLength="13.60" lengthAdjust="spacingAndGlyphs" >-0.0</text>
<text x="669.10" y="207.60" font-size="8.06" text-anchor="start" font-weight="normal" fill="#555" stroke="#555" stroke-width="0.13" textLength="13.60" lengthAdjust="spacingAndGlyphs" >-2.6</text>
<text x="648.80" y="185.50" font-size="8.80" text-anchor="middle" font-weight="normal" fill="#2e2e2e" stroke="#2e2e2e" stroke-width="0.13" textLength="66.50" lengthAdjust="spacingAndGlyphs" transform="rotate(-90 648.80 185.50)" >Mean expression</text>
<text x="658.20" y="185.00" font-size="8.80" text-anchor="middle" font-weight="normal" fill="#2e2e2e" stroke="#2e2e2e" stroke-width="0.13" textLength="28.00" lengthAdjust="spacingAndGlyphs" transform="rotate(-90 658.20 185.00)" >z-score</text>
<text x="0.60" y="255.60" font-size="12.80" text-anchor="start" font-weight="bold" fill="#1a1a1a" stroke="#1a1a1a" stroke-width="0.35" textLength="7.82" lengthAdjust="spacingAndGlyphs" >b</text>
<text x="18.00" y="255.00" font-size="8.80" text-anchor="start" font-weight="bold" fill="#1a1a1a" stroke="#1a1a1a" stroke-width="0.35" textLength="76.30" lengthAdjust="spacingAndGlyphs" >Medulla_follicles</text>
<rect x="86.30" y="260.30" width="20.25" height="19.70" fill="#abd5e3"/>
<rect x="105.95" y="260.30" width="19.65" height="19.70" fill="#a50f2f"/>
<rect x="86.30" y="279.40" width="20.25" height="19.10" fill="#5b9ccb"/>
<rect x="105.95" y="279.40" width="19.65" height="19.10" fill="#f8da8c"/>
<rect x="86.30" y="260.30" width="39.30" height="38.20" fill="none" stroke="#8a8a8a" stroke-width="0.5"/>
<line x1="84.70" y1="260.30" x2="86.30" y2="260.30" stroke="#777" stroke-width="0.6"/>
<line x1="86.30" y1="298.50" x2="86.30" y2="300.10" stroke="#777" stroke-width="0.6"/>
<line x1="84.70" y1="279.40" x2="86.30" y2="279.40" stroke="#777" stroke-width="0.6"/>
<line x1="105.95" y1="298.50" x2="105.95" y2="300.10" stroke="#777" stroke-width="0.6"/>
<line x1="84.70" y1="298.50" x2="86.30" y2="298.50" stroke="#777" stroke-width="0.6"/>
<line x1="125.60" y1="298.50" x2="125.60" y2="300.10" stroke="#777" stroke-width="0.6"/>
<text x="83.90" y="272.65" font-size="8.48" text-anchor="end" font-weight="normal" fill="#2e2e2e" stroke="#2e2e2e" stroke-width="0.13" textLength="66.26" lengthAdjust="spacingAndGlyphs" >Somatic.granulosa</text>
<text x="83.90" y="291.75" font-size="8.48" text-anchor="end" font-weight="normal" fill="#2e2e2e" stroke="#2e2e2e" stroke-width="0.13" textLength="45.79" lengthAdjust="spacingAndGlyphs" >Germ.oocyte</text>
<text x="100.12" y="303.70" font-size="7.85" text-anchor="end" font-weight="normal" fill="#2e2e2e" stroke="#2e2e2e" stroke-width="0.13" textLength="44.08" lengthAdjust="spacingAndGlyphs" transform="rotate(-51 100.12 303.70)" >Germ.oocyte</text>
<text x="119.77" y="303.70" font-size="7.85" text-anchor="end" font-weight="normal" fill="#2e2e2e" stroke="#2e2e2e" stroke-width="0.13" textLength="63.78" lengthAdjust="spacingAndGlyphs" transform="rotate(-51 119.77 303.70)" >Somatic.granulosa</text>
<rect x="152.90" y="257.10" width="6.6" height="43.3" fill="url(#gi)"/>
<line x1="160.80" y1="259.4" x2="163.20" y2="259.4" stroke="#666" stroke-width="0.8"/>
<text x="163.90" y="262.60" font-size="9.33" text-anchor="start" font-weight="normal" fill="#555" stroke="#555" stroke-width="0.13" textLength="9.10" lengthAdjust="spacingAndGlyphs" >83</text>
<line x1="160.80" y1="278.9" x2="163.20" y2="278.9" stroke="#666" stroke-width="0.8"/>
<text x="163.90" y="282.10" font-size="9.33" text-anchor="start" font-weight="normal" fill="#555" stroke="#555" stroke-width="0.13" textLength="9.10" lengthAdjust="spacingAndGlyphs" >43</text>
<line x1="160.80" y1="298.4" x2="163.20" y2="298.4" stroke="#666" stroke-width="0.8"/>
<text x="163.90" y="301.60" font-size="9.33" text-anchor="start" font-weight="normal" fill="#555" stroke="#555" stroke-width="0.13" textLength="4.90" lengthAdjust="spacingAndGlyphs" >3</text>
<text x="140.00" y="278.60" font-size="9.12" text-anchor="middle" font-weight="normal" fill="#2e2e2e" stroke="#2e2e2e" stroke-width="0.13" textLength="43.00" lengthAdjust="spacingAndGlyphs" transform="rotate(-90 140.00 278.60)" >Number of</text>
<text x="149.50" y="279.00" font-size="9.12" text-anchor="middle" font-weight="normal" fill="#2e2e2e" stroke="#2e2e2e" stroke-width="0.13" textLength="46.70" lengthAdjust="spacingAndGlyphs" transform="rotate(-90 149.50 279.00)" >interactions</text>
<text x="196.70" y="255.00" font-size="8.80" text-anchor="start" font-weight="bold" fill="#1a1a1a" stroke="#1a1a1a" stroke-width="0.35" textLength="56.90" lengthAdjust="spacingAndGlyphs" >Cortex_inner</text>
<rect x="267.20" y="261.20" width="13.40" height="13.17" fill="#4a7fc0"/>
<rect x="280.00" y="261.20" width="13.40" height="13.17" fill="#3a5eaa"/>
<rect x="292.80" y="261.20" width="12.80" height="13.17" fill="#3448a0"/>
<rect x="267.20" y="273.77" width="13.40" height="13.17" fill="#3448a0"/>
<rect x="280.00" y="273.77" width="13.40" height="13.17" fill="#3448a0"/>
<rect x="292.80" y="273.77" width="12.80" height="13.17" fill="#3448a0"/>
<rect x="267.20" y="286.34" width="13.40" height="12.57" fill="#3448a0"/>
<rect x="280.00" y="286.34" width="13.40" height="12.57" fill="#3448a0"/>
<rect x="292.80" y="286.34" width="12.80" height="12.57" fill="#3448a0"/>
<rect x="267.20" y="261.20" width="38.40" height="37.71" fill="none" stroke="#8a8a8a" stroke-width="0.5"/>
<line x1="265.60" y1="261.20" x2="267.20" y2="261.20" stroke="#777" stroke-width="0.6"/>
<line x1="267.20" y1="298.91" x2="267.20" y2="300.51" stroke="#777" stroke-width="0.6"/>
<line x1="265.60" y1="273.77" x2="267.20" y2="273.77" stroke="#777" stroke-width="0.6"/>
<line x1="280.00" y1="298.91" x2="280.00" y2="300.51" stroke="#777" stroke-width="0.6"/>
<line x1="265.60" y1="286.34" x2="267.20" y2="286.34" stroke="#777" stroke-width="0.6"/>
<line x1="292.80" y1="298.91" x2="292.80" y2="300.51" stroke="#777" stroke-width="0.6"/>
<line x1="265.60" y1="298.91" x2="267.20" y2="298.91" stroke="#777" stroke-width="0.6"/>
<line x1="305.60" y1="298.91" x2="305.60" y2="300.51" stroke="#777" stroke-width="0.6"/>
<text x="264.80" y="271.09" font-size="8.48" text-anchor="end" font-weight="normal" fill="#2e2e2e" stroke="#2e2e2e" stroke-width="0.13" textLength="68.03" lengthAdjust="spacingAndGlyphs" >Somatic.preGC_IIb</text>
<text x="264.80" y="283.66" font-size="8.48" text-anchor="end" font-weight="normal" fill="#2e2e2e" stroke="#2e2e2e" stroke-width="0.13" textLength="80.49" lengthAdjust="spacingAndGlyphs" >Germ.oogonia_meiotic</text>
<text x="264.80" y="296.23" font-size="8.48" text-anchor="end" font-weight="normal" fill="#2e2e2e" stroke="#2e2e2e" stroke-width="0.13" textLength="80.93" lengthAdjust="spacingAndGlyphs" >Germ.oogonia_STRA8</text>
<text x="277.60" y="304.11" font-size="7.85" text-anchor="end" font-weight="normal" fill="#2e2e2e" stroke="#2e2e2e" stroke-width="0.13" textLength="77.90" lengthAdjust="spacingAndGlyphs" transform="rotate(-51 277.60 304.11)" >Germ.oogonia_STRA8</text>
<text x="290.40" y="304.11" font-size="7.85" text-anchor="end" font-weight="normal" fill="#2e2e2e" stroke="#2e2e2e" stroke-width="0.13" textLength="77.47" lengthAdjust="spacingAndGlyphs" transform="rotate(-51 290.40 304.11)" >Germ.oogonia_meiotic</text>
<text x="303.20" y="304.11" font-size="7.85" text-anchor="end" font-weight="normal" fill="#2e2e2e" stroke="#2e2e2e" stroke-width="0.13" textLength="65.48" lengthAdjust="spacingAndGlyphs" transform="rotate(-51 303.20 304.11)" >Somatic.preGC_IIb</text>
<rect x="333.20" y="258.20" width="6.6" height="43.3" fill="url(#gi)"/>
<line x1="341.10" y1="260.5" x2="343.50" y2="260.5" stroke="#666" stroke-width="0.8"/>
<text x="344.20" y="263.70" font-size="9.33" text-anchor="start" font-weight="normal" fill="#555" stroke="#555" stroke-width="0.13" textLength="9.10" lengthAdjust="spacingAndGlyphs" >83</text>
<line x1="341.10" y1="280.0" x2="343.50" y2="280.0" stroke="#666" stroke-width="0.8"/>
<text x="344.20" y="283.20" font-size="9.33" text-anchor="start" font-weight="normal" fill="#555" stroke="#555" stroke-width="0.13" textLength="9.10" lengthAdjust="spacingAndGlyphs" >43</text>
<line x1="341.10" y1="299.5" x2="343.50" y2="299.5" stroke="#666" stroke-width="0.8"/>
<text x="344.20" y="302.70" font-size="9.33" text-anchor="start" font-weight="normal" fill="#555" stroke="#555" stroke-width="0.13" textLength="4.90" lengthAdjust="spacingAndGlyphs" >3</text>
<text x="320.30" y="279.15" font-size="9.12" text-anchor="middle" font-weight="normal" fill="#2e2e2e" stroke="#2e2e2e" stroke-width="0.13" textLength="43.00" lengthAdjust="spacingAndGlyphs" transform="rotate(-90 320.30 279.15)" >Number of</text>
<text x="329.80" y="279.55" font-size="9.12" text-anchor="middle" font-weight="normal" fill="#2e2e2e" stroke="#2e2e2e" stroke-width="0.13" textLength="46.70" lengthAdjust="spacingAndGlyphs" transform="rotate(-90 329.80 279.55)" >interactions</text>
<text x="366.00" y="255.00" font-size="8.80" text-anchor="start" font-weight="bold" fill="#1a1a1a" stroke="#1a1a1a" stroke-width="0.35" textLength="57.60" lengthAdjust="spacingAndGlyphs" >Cortex_outer</text>
<rect x="435.10" y="261.30" width="13.53" height="13.45" fill="#2d479c"/>
<rect x="448.03" y="261.30" width="13.53" height="13.45" fill="#3a62ae"/>
<rect x="460.96" y="261.30" width="12.93" height="13.45" fill="#2e469b"/>
<rect x="435.10" y="274.15" width="13.53" height="13.45" fill="#4a82c0"/>
<rect x="448.03" y="274.15" width="13.53" height="13.45" fill="#4a80c0"/>
<rect x="460.96" y="274.15" width="12.93" height="13.45" fill="#3a62ae"/>
<rect x="435.10" y="287.00" width="13.53" height="12.85" fill="#4679bc"/>
<rect x="448.03" y="287.00" width="13.53" height="12.85" fill="#4274b8"/>
<rect x="460.96" y="287.00" width="12.93" height="12.85" fill="#3a62ae"/>
<rect x="435.10" y="261.30" width="38.79" height="38.55" fill="none" stroke="#8a8a8a" stroke-width="0.5"/>
<line x1="433.50" y1="261.30" x2="435.10" y2="261.30" stroke="#777" stroke-width="0.6"/>
<line x1="435.10" y1="299.85" x2="435.10" y2="301.45" stroke="#777" stroke-width="0.6"/>
<line x1="433.50" y1="274.15" x2="435.10" y2="274.15" stroke="#777" stroke-width="0.6"/>
<line x1="448.03" y1="299.85" x2="448.03" y2="301.45" stroke="#777" stroke-width="0.6"/>
<line x1="433.50" y1="287.00" x2="435.10" y2="287.00" stroke="#777" stroke-width="0.6"/>
<line x1="460.96" y1="299.85" x2="460.96" y2="301.45" stroke="#777" stroke-width="0.6"/>
<line x1="433.50" y1="299.85" x2="435.10" y2="299.85" stroke="#777" stroke-width="0.6"/>
<line x1="473.89" y1="299.85" x2="473.89" y2="301.45" stroke="#777" stroke-width="0.6"/>
<text x="432.70" y="271.33" font-size="8.48" text-anchor="end" font-weight="normal" fill="#2e2e2e" stroke="#2e2e2e" stroke-width="0.13" textLength="68.03" lengthAdjust="spacingAndGlyphs" >Somatic.preGC_IIa</text>
<text x="432.70" y="284.18" font-size="8.48" text-anchor="end" font-weight="normal" fill="#2e2e2e" stroke="#2e2e2e" stroke-width="0.13" textLength="48.02" lengthAdjust="spacingAndGlyphs" >Somatic.OSE</text>
<text x="432.70" y="297.03" font-size="8.48" text-anchor="end" font-weight="normal" fill="#2e2e2e" stroke="#2e2e2e" stroke-width="0.13" textLength="39.56" lengthAdjust="spacingAndGlyphs" >Germ.PGC</text>
<text x="445.56" y="305.05" font-size="7.85" text-anchor="end" font-weight="normal" fill="#2e2e2e" stroke="#2e2e2e" stroke-width="0.13" textLength="38.08" lengthAdjust="spacingAndGlyphs" transform="rotate(-51 445.56 305.05)" >Germ.PGC</text>
<text x="458.50" y="305.05" font-size="7.85" text-anchor="end" font-weight="normal" fill="#2e2e2e" stroke="#2e2e2e" stroke-width="0.13" textLength="46.22" lengthAdjust="spacingAndGlyphs" transform="rotate(-51 458.50 305.05)" >Somatic.OSE</text>
<text x="471.43" y="305.05" font-size="7.85" text-anchor="end" font-weight="normal" fill="#2e2e2e" stroke="#2e2e2e" stroke-width="0.13" textLength="65.48" lengthAdjust="spacingAndGlyphs" transform="rotate(-51 471.43 305.05)" >Somatic.preGC_IIa</text>
<rect x="500.60" y="258.50" width="6.6" height="43.3" fill="url(#gi)"/>
<line x1="508.50" y1="260.79999999999995" x2="510.90" y2="260.79999999999995" stroke="#666" stroke-width="0.8"/>
<text x="511.60" y="264.00" font-size="9.33" text-anchor="start" font-weight="normal" fill="#555" stroke="#555" stroke-width="0.13" textLength="9.10" lengthAdjust="spacingAndGlyphs" >83</text>
<line x1="508.50" y1="280.29999999999995" x2="510.90" y2="280.29999999999995" stroke="#666" stroke-width="0.8"/>
<text x="511.60" y="283.50" font-size="9.33" text-anchor="start" font-weight="normal" fill="#555" stroke="#555" stroke-width="0.13" textLength="9.10" lengthAdjust="spacingAndGlyphs" >43</text>
<line x1="508.50" y1="299.79999999999995" x2="510.90" y2="299.79999999999995" stroke="#666" stroke-width="0.8"/>
<text x="511.60" y="303.00" font-size="9.33" text-anchor="start" font-weight="normal" fill="#555" stroke="#555" stroke-width="0.13" textLength="4.90" lengthAdjust="spacingAndGlyphs" >3</text>
<text x="487.70" y="279.30" font-size="9.12" text-anchor="middle" font-weight="normal" fill="#2e2e2e" stroke="#2e2e2e" stroke-width="0.13" textLength="43.00" lengthAdjust="spacingAndGlyphs" transform="rotate(-90 487.70 279.30)" >Number of</text>
<text x="497.20" y="279.70" font-size="9.12" text-anchor="middle" font-weight="normal" fill="#2e2e2e" stroke="#2e2e2e" stroke-width="0.13" textLength="46.70" lengthAdjust="spacingAndGlyphs" transform="rotate(-90 497.20 279.70)" >interactions</text>
</svg>
</body></html>
